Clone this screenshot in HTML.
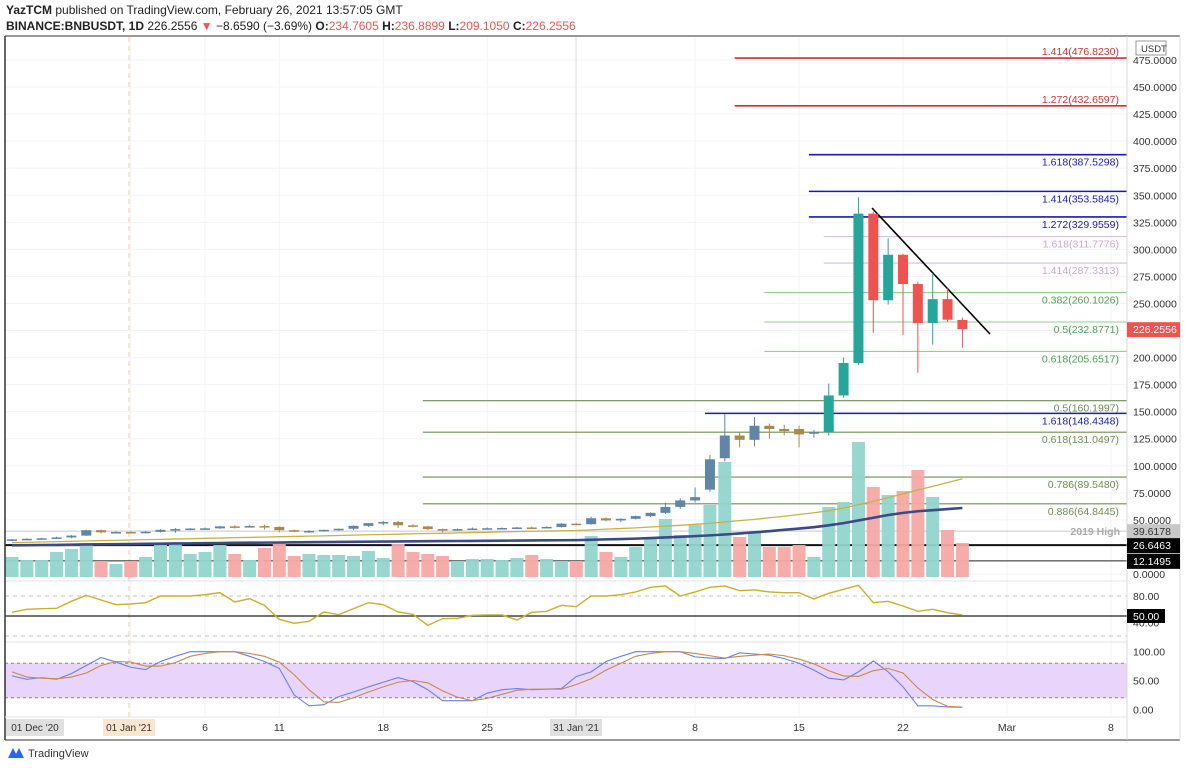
<!DOCTYPE html>
<html><head><meta charset="utf-8">
<style>
body{margin:0;background:#fff;width:1185px;height:768px;overflow:hidden;font-family:"Liberation Sans",sans-serif;}
#hdr1{position:absolute;left:6px;top:3px;font-size:12px;color:#222;}
#hdr2{position:absolute;left:6px;top:19px;font-size:12px;color:#222;}
.r{color:#ef5350}
svg{position:absolute;left:0;top:0}
</style></head><body>
<div id="hdr1"><b>YazTCM</b> published on TradingView.com, February 26, 2021 13:57:05 GMT</div>
<div id="hdr2"><b>BINANCE:BNBUSDT, 1D</b> 226.2556 <span class="r">▼</span> −8.6590 (−3.69%) <b>O:</b><span class="r">234.7605</span> <b>H:</b><span class="r">236.8899</span> <b>L:</b><span class="r">209.1050</span> <b>C:</b><span class="r">226.2556</span></div>
<svg id="chart" width="1185" height="768" font-family="Liberation Sans, sans-serif">
<g id="grid"></g>
<g id="fibs"></g>
<g id="vol"></g>
<g id="ma"></g>
<g id="candles"></g>
<g id="rsi"></g>
<g id="stoch"></g>
<g id="axes"></g>
<g><path d="M8 758 L13 748 L16 754 L19 748 L24 758 Z" fill="#2962ff"/><text x="28" y="757" font-size="11" fill="#333">TradingView</text></g>
</svg>
<script>
const opens=[31.5,32,32.5,33,33.8,35.5,40.5,38.5,38.8,38.3,39,40.8,41.5,42,42.2,44,43.7,44.3,43.5,40.5,39,39.8,40.8,41.8,44.5,47,48,45,44,41.5,40.5,41.5,42,42.3,42.5,43,42.8,43.5,46.5,46,51.5,49.5,51,53.5,56.5,62,68,78,107,128,124,137,134,134,130,131,165,195,333,253,295,268,232,254,234.76];
const highs=[32.5,33,33.5,34.5,36,41,41,39.5,39.5,40,41.5,42.5,42.5,43,44.5,45,45,45.5,44,41,40.5,41,42,45,47,49,49,46,44.5,42,42,43,43,43,43.5,43.8,44,47,47,53,52.5,51.5,54,57,66,70,80,110,148,131,145,139,138,137,133,176,200,348,335,310,296,270,278,264,236.89];
const lows=[30.5,31.5,32,32.5,33,35,37.5,37.5,37.5,37.5,38.5,38,40.5,41,41.5,42,43,41,38.5,38.5,38,39,40,40.5,43.5,45,42.5,43,40.5,38.5,40,41,41.5,41.5,41.5,42,42.5,43,45,45.5,48.5,48,50.5,52.5,55.5,60,66,76,104,117,118,125,128,117,126,128,163,193,223,249,221,186,212,233,209.1];
const closes=[32,32.5,33,33.8,35.5,40.5,38.5,38.8,38.3,39,40.8,41.5,42,42.2,44,43.7,44.3,43.5,40.5,39,39.8,40.8,41.8,44.5,47,48,45,44,41.5,40.5,41.5,42,42.3,42.5,43,42.8,43.5,46.5,46,51.5,49.5,51,53.5,56.5,62,68,71,106,128,124,137,134,132,129,131,165,195,333,253,295,268,232,254,235,226.26];
const volumes=[20,17,17,25,28,34,16,13,16,20,32,34,23,25,32,23,17,29,34,21,23,22,22,21,26,19,33,25,23,21,16,18,18,17,19,22,18,16,16,41,25,20,30,40,58,42,52,72,115,40,45,30,30,32,20,70,75,135,90,82,86,107,80,47,34];
const maFast=[29,29.2,29.6,29.9,30.3,30.5,30.9,31.1,31.4,31.8,32,32.4,32.6,33,33.2,33.6,33.8,34.1,34.5,34.7,35,35.2,35.6,35.9,36.3,36.5,36.8,37.2,37.4,37.6,38,38.3,38.5,38.9,39.2,39.5,39.7,40,40.2,40.8,41.5,42,42.6,43.4,44.3,45,45.9,46.8,48.1,49.3,50.5,52,53.4,55,56.6,58.4,61,64,67.2,70.5,74,77.6,81,84.4,88];
const maSlow=[26.5,26.6,26.8,26.9,27.1,27.3,27.4,27.6,27.7,27.9,28,28.2,28.3,28.5,28.6,28.8,28.9,29,29.1,29.3,29.4,29.5,29.6,29.7,29.9,30,30.1,30.2,30.3,30.4,30.5,30.6,30.7,30.8,30.9,31,31.1,31.2,31.3,31.6,32,32.3,32.7,33.2,33.8,34.4,35,35.7,36.5,37.5,38.5,39.6,40.8,42,43.3,45,47,49.5,52,54.5,56.5,58,59,60,61];
const rsiVals=[55.5,60,61,61.5,72,81,74,67,68,70,80,80,80,82,85,71,76,66,45,39,42,56,52,61,70,67,56,52.5,36,46,46.5,51,51.5,51.5,44,55.5,57,66,64,80,80,82,86,93,95,80,86,93,95,88,89,86,85,85,75.5,84,90,96,70,72,65,57,60,55,51.5];
const stochK=[58,52,55,52,62,76,90,82,73,69,83,92,100,100,100,100,92,83,71,25,6,8,22,30,39,47,55,48,34,15,15,15,28,34,36,34,35,36,57,65,83,92,100,100,100,100,91,89,88,98,96,94,88,80,68,54,51,65,84,65,39,6,6,4,3.5];
const stochD=[65,56,54,53,56,63,76,83,82,75,75,81,92,97,100,100,97,92,82,60,34,13,12,20,30,39,47,50,46,32,21,15,19,26,33,35,35,35,43,53,68,80,92,97,100,100,97,93,89,92,94,96,93,87,79,67,58,57,67,71,63,37,17,5,4];
const priceTicks=[0,50,75,100,125,150,175,200,225,250,275,300,325,350,375,400,425,450,475];
const fibValues=[476.823,432.6597,387.5298,353.5845,329.9559,311.7776,287.3313,260.1026,232.8771,205.6517,160.1997,148.4348,131.0497,89.548,64.8445];
const fibLabels=["1.414(476.8230)","1.272(432.6597)","1.618(387.5298)","1.414(353.5845)","1.272(329.9559)","1.618(311.7776)","1.414(287.3313)","0.382(260.1026)","0.5(232.8771)","0.618(205.6517)","0.5(160.1997)","1.618(148.4348)","0.618(131.0497)","0.786(89.5480)","0.886(64.8445)"];
const fibStartDay=[49,49,54,54,54,55,55,51,51,51,28,47,28,28,28];
const fibColors=["#d32f2f","#d32f2f","#1a1ab8","#1a1ab8","#1a1ab8","#d8b8e0","#d8b8e0","#8fcf8f","#8fcf8f","#8fcf8f","#6f8f4f","#1a1ab8","#6f8f4f","#6f8f4f","#6f8f4f"];
const fibLabelAbove=[1,1,0,0,0,0,0,0,0,0,0,0,0,0,0];
const dateLabels=["6","11","18","25","8","15","22","Mar","8"];
const dateDays=[13,18,25,32,46,53,60,67,74];

const NS="http://www.w3.org/2000/svg";
const L=5,R=1127,PT=37,PB=580;
const xDay=i=>12+i*14.85;
const yP=v=>574-v*1.0821;
const yRsi=v=>616-(v-50)*0.667;
const ySt=v=>709.3-v*0.576;
const yVol=v=>577-v;
function mk(tag,attrs,parent,txt){const e=document.createElementNS(NS,tag);for(const k in attrs)e.setAttribute(k,attrs[k]);if(txt!==undefined)e.textContent=txt;parent.appendChild(e);return e;}
const G=id=>document.getElementById(id);

const grid=G('grid');
priceTicks.forEach(t=>{const l=mk('line',{x1:L,x2:R,y1:yP(t),y2:yP(t),stroke:'#f0f3fa'},grid);});
[-5,8,38].concat(dateDays).forEach(d=>{const x=xDay(d);if(x<R){const l=mk('line',{x1:x,x2:x,y1:PT,y2:717,stroke:'#f0f3fa'},grid);}});
mk('line',{x1:129,x2:129,y1:PT,y2:717,stroke:'#f5c89a','stroke-dasharray':'5,4'},grid);
mk('line',{x1:576,x2:576,y1:PT,y2:717,stroke:'#e0e0e0'},grid);

const fibs=G('fibs');
fibValues.forEach((v,k)=>{const y=yP(v);
 const l=mk('line',{x1:xDay(fibStartDay[k])-5,x2:R,y1:y,y2:y,stroke:fibColors[k],'stroke-width':(fibColors[k]=='#1a1ab8'||fibColors[k]=='#d32f2f')?1.6:1.1},fibs);
 
 const c=fibColors[k]=='#d8b8e0'?'#c9a8d8':(fibColors[k]=='#8fcf8f'?'#4f9f4f':fibColors[k]);
 const t=mk('text',{x:1119,y:fibLabelAbove[k]?y-3:y+11,'font-size':10.5,'text-anchor':'end',fill:c},fibs,fibLabels[k]);
 });
mk('line',{x1:L,x2:R,y1:yP(39.6178),y2:yP(39.6178),stroke:'#c8c8c8'},fibs);
mk('text',{x:1120,y:yP(39.6178)+4,'font-size':10.5,'text-anchor':'end',fill:'#aaa','font-weight':'bold'},fibs,'2019 High');
mk('line',{x1:L,x2:R,y1:yP(26.6463),y2:yP(26.6463),stroke:'#111','stroke-width':2},fibs);
mk('line',{x1:L,x2:R,y1:yP(12.1495),y2:yP(12.1495),stroke:'#222','stroke-width':1},fibs);
const tl=mk('line',{x1:872,y1:208,x2:990,y2:334,stroke:'#000','stroke-width':1.6},fibs);


const vol=G('vol');
volumes.forEach((v,i)=>{const up=closes[i]>=opens[i];const x=xDay(i);
 const b=mk('rect',{x:x-6.5,y:yVol(v),width:13,height:v,fill:up?'#92d5cc':'#f5a9a5',opacity:0.95},vol);
 });

const ma=G('ma');
function pl(arr,yf,attrs,parent,name){const p=mk('polyline',Object.assign({points:arr.map((v,i)=>xDay(i)+','+yf(v)).join(' '),fill:'none'},attrs),parent);return p;}
pl(maSlow,yP,{stroke:'#3b4a84','stroke-width':2.6},ma,'ma-slow-line');
pl(maFast,yP,{stroke:'#c9b144','stroke-width':1.3},ma,'ma-fast-line');

const cg=G('candles');
opens.forEach((o,i)=>{const c=closes[i],up=c>=o,x=xDay(i);
 const col=i>=55?(up?'#26a69a':'#ef5350'):(up?'#5f86a6':'#a98a4e');
 mk('line',{x1:x,x2:x,y1:yP(highs[i]),y2:yP(lows[i]),stroke:col,'stroke-width':1},cg);
 const top=yP(Math.max(o,c)),h=Math.max(1.5,Math.abs(yP(o)-yP(c)));
 const r=mk('rect',{x:x-5,y:top,width:10,height:h,fill:col},cg);
 });

const rg=G('rsi');
mk('line',{x1:L,x2:R,y1:581,y2:581,stroke:'#e0e3eb'},rg);
[80,20].forEach(v=>mk('line',{x1:L,x2:R,y1:yRsi(v),y2:yRsi(v),stroke:'#c0c0c0','stroke-dasharray':'4,4'},rg));
mk('line',{x1:L,x2:R,y1:yRsi(50),y2:yRsi(50),stroke:'#222','stroke-width':1.2},rg);
pl(rsiVals,yRsi,{stroke:'#c9b02a','stroke-width':1.4},rg,'rsi-line');

const sg=G('stoch');
mk('line',{x1:L,x2:R,y1:642,y2:642,stroke:'#e0e3eb'},sg);
mk('rect',{x:L,y:ySt(80),width:R-L,height:ySt(20)-ySt(80),fill:'#e9d4fb'},sg);
[80,20].forEach(v=>mk('line',{x1:L,x2:R,y1:ySt(v),y2:ySt(v),stroke:'#888','stroke-dasharray':'3,3'},sg));
pl(stochK,ySt,{stroke:'#6b7ff0','stroke-width':1.1},sg,'stoch-k-line');
pl(stochD,ySt,{stroke:'#c98a4a','stroke-width':1.1},sg,'stoch-d-line');

const ax=G('axes');
mk('line',{x1:L,x2:L,y1:36,y2:740,stroke:'#333','stroke-width':1.5},ax);
mk('line',{x1:L,x2:1180,y1:36,y2:36,stroke:'#333','stroke-width':1},ax);
mk('line',{x1:L,x2:1180,y1:740,y2:740,stroke:'#333','stroke-width':1},ax);
mk('line',{x1:1180,x2:1180,y1:36,y2:740,stroke:'#ddd'},ax);
mk('line',{x1:R,x2:R,y1:36,y2:740,stroke:'#d8d8d8'},ax);
mk('line',{x1:L,x2:R,y1:717,y2:717,stroke:'#e0e3eb'},ax);
priceTicks.forEach(t=>{const tx=mk('text',{x:1133,y:yP(t)+4,'font-size':10.5,fill:'#333'},ax,t.toFixed(4));});
mk('rect',{x:1136,y:41,width:30,height:14,fill:'#fff',stroke:'#999'},ax);
mk('text',{x:1141,y:52,'font-size':9.5,fill:'#333'},ax,'USDT');
function tag(y,txt,bg,fg){mk('rect',{x:R,y:y-7,width:53,height:15,fill:bg},ax);mk('text',{x:1133,y:y+4,'font-size':10.5,fill:fg},ax,txt);}
tag(yP(226.2556),'226.2556','#ef5350','#fff');
tag(yP(39.6178),'39.6178','#c8c8c8','#333');
tag(yP(26.6463),'26.6463','#000','#fff');
tag(yP(12.1495),'12.1495','#000','#fff');
mk('text',{x:1133,y:yRsi(80)+4,'font-size':10.5,fill:'#333'},ax,'80.00');
mk('text',{x:1133,y:yRsi(40)+4,'font-size':10.5,fill:'#333'},ax,'40.00');
mk('rect',{x:R,y:yRsi(50)-7,width:38,height:14,fill:'#000'},ax);
mk('text',{x:1133,y:yRsi(50)+4,'font-size':10.5,fill:'#fff'},ax,'50.00');
[[100,'100.00'],[50,'50.00'],[0,'0.00']].forEach(a=>mk('text',{x:1133,y:ySt(a[0])+4,'font-size':10.5,fill:'#333'},ax,a[1]));
dateLabels.forEach((d,k)=>{const t=mk('text',{x:xDay(dateDays[k]),y:731,'font-size':10.5,fill:'#333','text-anchor':'middle'},ax,d);});
mk('rect',{x:6,y:719,width:58,height:17,fill:'#e0e0e0'},ax);
mk('text',{x:35,y:731,'font-size':10,fill:'#333','text-anchor':'middle'},ax,"01 Dec '20");
mk('rect',{x:103,y:719,width:52,height:17,fill:'#f8e6cf'},ax);
mk('text',{x:129,y:731,'font-size':10,fill:'#333','text-anchor':'middle'},ax,"01 Jan '21");
mk('rect',{x:550,y:719,width:52,height:17,fill:'#e0e0e0'},ax);
mk('text',{x:576,y:731,'font-size':10,fill:'#333','text-anchor':'middle'},ax,"31 Jan '21");
</script>
</body></html>
